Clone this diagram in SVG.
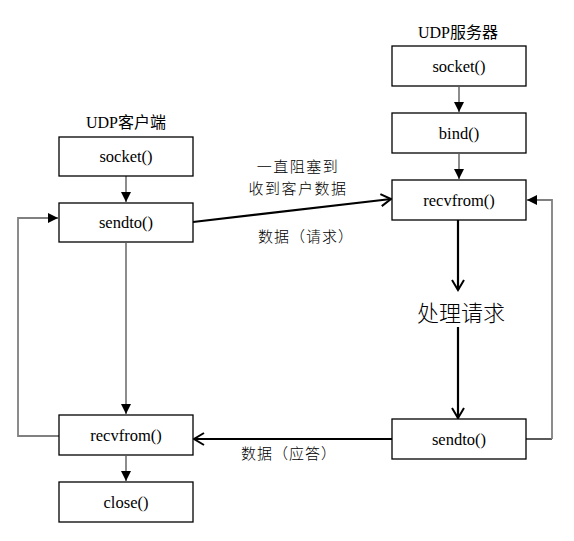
<svg xmlns="http://www.w3.org/2000/svg" width="574" height="541" viewBox="0 0 574 541">
<defs>
<style>
.box{fill:#fff;stroke:#000;stroke-width:1.3}
.lbl{font-family:"Liberation Serif","Times New Roman",serif;font-size:16.5px;fill:#000;text-anchor:middle}
.ttl{font-family:"Liberation Serif","Noto Sans CJK SC",serif;font-size:16px;fill:#000;text-anchor:middle}
.cn{font-family:"Noto Sans CJK SC",sans-serif;font-size:15px;fill:#000;font-weight:300}
.gl{fill:none;stroke:#808080;stroke-width:1.8}
.bl{fill:none;stroke:#000;stroke-width:1.3}
.tk{fill:none;stroke:#000;stroke-width:2.2}
</style>
<marker id="fa" markerUnits="userSpaceOnUse" markerWidth="10" markerHeight="10" viewBox="0 0 10 10" refX="10" refY="5" orient="auto">
<path d="M0,0 L10,5 L0,10 z" fill="#000"/>
</marker>
<marker id="oa" markerUnits="userSpaceOnUse" markerWidth="14" markerHeight="14" viewBox="0 0 14 14" refX="12" refY="7" orient="auto">
<path d="M2,1 L12,7 L2,13" fill="none" stroke="#000" stroke-width="2"/>
</marker>
</defs>
<rect width="574" height="541" fill="#fff"/>
<g id="connectors">
<line class="gl" x1="126" y1="176" x2="126" y2="202" marker-end="url(#fa)"/>
<line class="gl" x1="126" y1="243" x2="126" y2="414" marker-end="url(#fa)"/>
<line class="gl" x1="126" y1="456" x2="126" y2="481" marker-end="url(#fa)"/>
<polyline class="gl" points="59,436 18,436 18,218 58,218" marker-end="url(#fa)"/>
<line class="gl" x1="459" y1="87" x2="459" y2="112" marker-end="url(#fa)"/>
<line class="gl" x1="459" y1="154" x2="459" y2="179" marker-end="url(#fa)"/>
<polyline class="bl" points="526,439 552,439"/>
<polyline class="gl" points="552,439 552,200 527,200" marker-end="url(#fa)"/>
<line class="tk" x1="193" y1="222" x2="391" y2="199" marker-end="url(#oa)"/>
<line class="tk" x1="458" y1="220" x2="458" y2="290" marker-end="url(#oa)"/>
<line class="tk" x1="458" y1="327" x2="458" y2="418" marker-end="url(#oa)"/>
<line class="tk" x1="392" y1="439" x2="194" y2="439" marker-end="url(#oa)"/>
</g>
<g id="client-title"><text class="ttl" x="126" y="128">UDP客户端</text></g>
<g id="server-title"><text class="ttl" x="458" y="38">UDP服务器</text></g>
<g id="c-socket"><rect class="box" x="59" y="137" width="134" height="39"/><text class="lbl" x="126" y="162">socket()</text></g>
<g id="c-sendto"><rect class="box" x="59" y="203" width="134" height="39"/><text class="lbl" x="126" y="228">sendto()</text></g>
<g id="c-recvfrom"><rect class="box" x="59" y="415" width="134" height="40"/><text class="lbl" x="126" y="441">recvfrom()</text></g>
<g id="c-close"><rect class="box" x="59" y="482" width="134" height="40"/><text class="lbl" x="126" y="508">close()</text></g>
<g id="s-socket"><rect class="box" x="392" y="46" width="134" height="40"/><text class="lbl" x="459" y="72">socket()</text></g>
<g id="s-bind"><rect class="box" x="392" y="113" width="134" height="40"/><text class="lbl" x="459" y="139">bind()</text></g>
<g id="s-recvfrom"><rect class="box" x="392" y="180" width="134" height="40"/><text class="lbl" x="459" y="206">recvfrom()</text></g>
<g id="s-process"><text x="461" y="321" style="font-family:'Noto Sans CJK SC',sans-serif;font-size:22px;font-weight:300;text-anchor:middle">处理请求</text></g>
<g id="s-sendto"><rect class="box" x="392" y="419" width="134" height="40"/><text class="lbl" x="459" y="445">sendto()</text></g>
<g id="labels">
<text class="cn" x="298" y="172" text-anchor="middle" letter-spacing="1.5">一直阻塞到</text>
<text class="cn" x="298" y="194" text-anchor="middle" letter-spacing="1.5">收到客户数据</text>
<text class="cn" x="258" y="242" letter-spacing="1">数据（请求）</text>
<text class="cn" x="241" y="459" letter-spacing="1">数据（应答）</text>
</g>
</svg>
